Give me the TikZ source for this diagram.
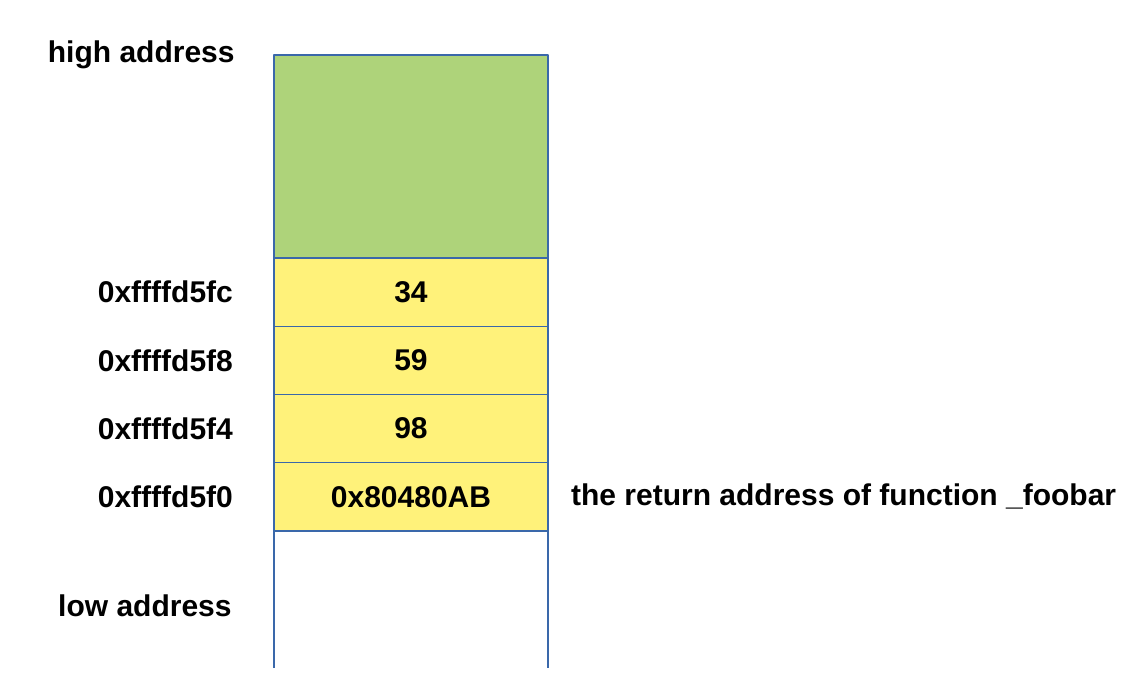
\documentclass[tikz,border=0pt]{standalone}
\usepackage{fontspec}
\setmainfont{Liberation Sans}
\usetikzlibrary{positioning}
\definecolor{stackline}{RGB}{58,104,170}
\definecolor{stackgreen}{RGB}{174,211,122}
\definecolor{stackyellow}{RGB}{255,242,122}
\begin{document}
\begin{tikzpicture}[x=0.5pt,y=-0.5pt,font=\fontsize{15}{18}\selectfont\bfseries, line join=round,
		cell/.style={draw=stackline,line width=0.7pt,fill=stackyellow,minimum width=137pt,minimum height=34.125pt,inner sep=0pt},
		addr/.style={inner sep=0pt}]
				\useasboundingbox (0,0) rectangle (1148,686);
				\fill[stackgreen] (274,55) rectangle (548,258);
				\foreach \v [count=\i] in {34,59,98,0x80480AB}{
					\node[cell] (cell\i) at (411,{258+68.25*(\i-0.5)}) {\v};}
				\foreach \a [count=\i] in {fc,f8,f4,f0}{
					\node[addr,left=20pt of cell\i] (addr\i) {0xffffd5\a};}
				\coordinate (topleft) at (274,55);
				\coordinate (topright) at (548,55);
				\draw[stackline,line width=1.1pt] (topleft|-0,668)--(topleft)--(topright)--(topright|-0,668);
				\node[addr,anchor=base east] (high) at (235,62) {high address};
				\node[addr,anchor=base east] (low) at (232,616) {low address};
				\node[addr,right=11pt of cell4] (retaddr) {the return address of function \_foobar};
			\end{tikzpicture}
\end{document}
